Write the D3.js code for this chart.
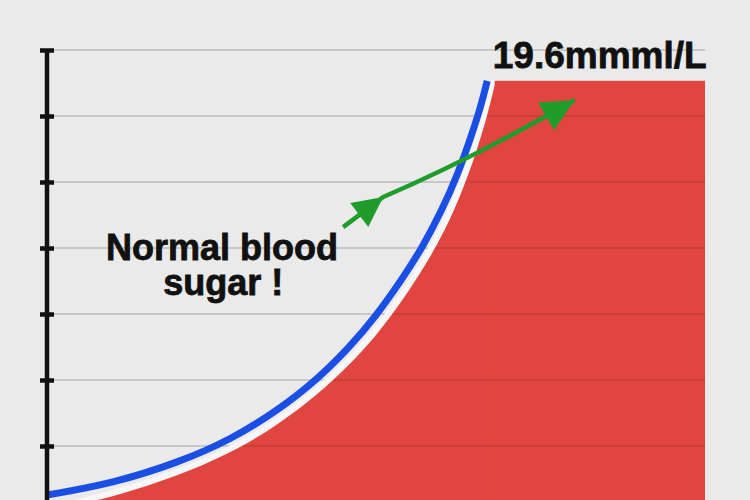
<!DOCTYPE html>
<html><head><meta charset="utf-8">
<script src="https://cdn.jsdelivr.net/npm/d3@7"></script>
<style>html,body{margin:0;padding:0;background:#eaeaea;}svg{display:block;}</style>
</head><body>
<script>
// ---- data ----
const yTicks = [3, 6, 9, 12, 15, 18, 21];
const peakValue = 19.6;
const peakLabel = "19.6mmml/L";
const noteLines = ["Normal blood", "sugar !"];
// blue curve (time index, mmol/L)
const blueX = [0, 10, 20, 28, 35, 41, 46, 50, 54, 57, 60, 62.5, 64.5, 66, 66.9];
const blueY = [0.77, 1.3, 2.25, 3.3, 4.6, 6.0, 7.5, 8.9, 10.6, 12.0, 13.7, 15.4, 17.1, 18.5, 19.6];
// red area edge
const redX = [2, 8, 15, 22, 29, 35, 41, 46, 50, 54, 57.5, 60.5, 63, 65.2, 67, 68.2];
const redY = [0.1, 0.55, 1.15, 1.9, 2.85, 3.95, 5.3, 6.7, 8.0, 9.6, 11.2, 12.8, 14.5, 16.3, 18.1, 19.6];
const redEndX = 100;
// annotation arrow (start, first head, control, end)
const arrowX = [45.0, 51.1, 64.3, 80.2];
const arrowY = [12.95, 14.32, 16.0, 18.73];

const W = 750, H = 500;
const x = d3.scaleLinear().domain([0, 100]).range([47, 705]);
const y = d3.scaleLinear().domain([0, 21]).range([512, 50]);

const svg = d3.select("body").append("svg").attr("width", W).attr("height", H);
svg.append("rect").attr("width", W).attr("height", H).attr("fill", "#eaeaea");

// grid
svg.append("g").selectAll("line").data(yTicks).join("line")
  .attr("x1", x(0) + 4).attr("x2", x(100))
  .attr("y1", d => y(d)).attr("y2", d => y(d))
  .attr("stroke", "#bcbcbc").attr("stroke-width", 1.5);

const redData = redX.map((v, i) => [v, redY[i]]);
const blueData = blueX.map((v, i) => [v, blueY[i]]);

const edge = d3.line().x(d => x(d[0])).y(d => y(d[1])).curve(d3.curveBasis);
// white band along red edge
svg.append("path").attr("d", edge(redData))
  .attr("fill", "none").attr("stroke", "#f7f7f7").attr("stroke-width", 12);

// red area
const area = d3.area().x(d => x(d[0])).y0(y(0)).y1(d => y(d[1])).curve(d3.curveBasis);
const last = redData[redData.length - 1];
const clip = svg.append("defs").append("clipPath").attr("id", "redclip");
clip.append("path").attr("d", area(redData));
clip.append("rect").attr("x", x(last[0]) - 1).attr("y", y(peakValue))
  .attr("width", x(redEndX) - x(last[0]) + 1).attr("height", y(0) - y(peakValue));
const red = "#e0463f";
svg.append("path").attr("d", area(redData)).attr("fill", red);
svg.append("rect").attr("x", x(last[0]) - 1).attr("y", y(peakValue))
  .attr("width", x(redEndX) - x(last[0]) + 1).attr("height", y(0) - y(peakValue)).attr("fill", red);
// grid lines over red
svg.append("g").attr("clip-path", "url(#redclip)")
  .selectAll("line").data(yTicks).join("line")
  .attr("x1", x(0)).attr("x2", x(100))
  .attr("y1", d => y(d)).attr("y2", d => y(d))
  .attr("stroke", "#000").attr("stroke-opacity", 0.13).attr("stroke-width", 1.5);

// blue line
svg.append("path").attr("d", edge(blueData))
  .attr("fill", "none").attr("stroke", "#1b4fe3").attr("stroke-width", 7)
  .attr("stroke-linecap", "butt");

// axis
const axis = d3.axisLeft(y).tickValues(yTicks).tickSize(0).tickFormat("");
const ag = svg.append("g").attr("transform", `translate(${x(0)},0)`).call(axis);
ag.select(".domain").remove();
ag.append("line").attr("x1", 0).attr("x2", 0).attr("y1", y(21)).attr("y2", H)
  .attr("stroke", "#111").attr("stroke-width", 4.5);
ag.selectAll(".tick line").attr("x1", -7).attr("x2", 7)
  .attr("stroke", "#111").attr("stroke-width", 4.5);

// arrow
const green = "#1f9c2b";
const P = arrowX.map((v, i) => [x(v), y(arrowY[i])]);
svg.append("path")
  .attr("d", `M${P[0][0]},${P[0][1]} L${P[1][0]},${P[1][1]} Q${P[2][0]},${P[2][1]} ${P[3][0]},${P[3][1]}`)
  .attr("fill", "none").attr("stroke", green).attr("stroke-width", 4.5);
function head(tip, from, len, hw) {
  const dx = tip[0] - from[0], dy = tip[1] - from[1];
  const L = Math.hypot(dx, dy), ux = dx / L, uy = dy / L;
  const bx = tip[0] - ux * len, by = tip[1] - uy * len;
  return [[tip[0], tip[1]], [bx - uy * hw, by + ux * hw], [bx + uy * hw, by - ux * hw]];
}
const h1 = head(P[1], P[0], 30, 15);
const h2 = head(P[3], P[2], 33, 16);
[h1, h2].forEach(h => svg.append("polygon").attr("points", h.map(p => p.join(",")).join(" ")).attr("fill", green));

// texts
const font = "Liberation Sans, Arial, sans-serif";
function label(tx, ty, size, str) {
  svg.append("text").attr("x", x(tx)).attr("y", y(ty)).attr("text-anchor", "middle")
    .attr("font-family", font).attr("font-weight", "bold").attr("font-size", size)
    .attr("fill", "#111").attr("stroke", "#111").attr("stroke-width", 0.8).text(str);
}
label(84.0, 20.2, 37, peakLabel);
label(26.6, 11.45, 36, noteLines[0]);
label(26.8, 9.86, 36, noteLines[1]);
</script>
</body></html>
